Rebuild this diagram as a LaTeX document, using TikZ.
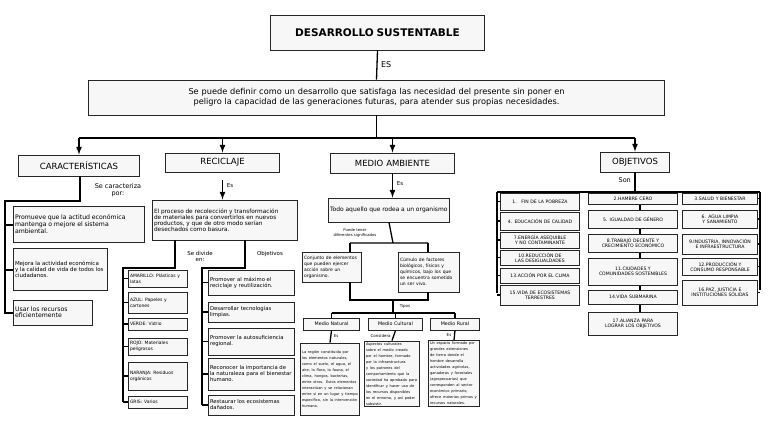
\documentclass[tikz,border=0pt]{standalone}
\usepackage{fontspec}
\setmainfont{DejaVu Sans}
\hyphenpenalty=10000
\exhyphenpenalty=10000
\begin{document}
\begin{tikzpicture}[x=1pt,y=-1pt,
  bx/.style={draw=black!85,line width=0.9pt,fill=black!3,inner sep=1.5pt,align=left,font=\fontsize{5.2}{6}\selectfont},
  hd/.style={bx,align=center,font=\fontsize{8.5}{10}\selectfont},
  ob/.style={bx,align=center,font=\fontsize{4.6}{5.2}\selectfont},
  ln/.style={line width=1.3pt},
  ar/.style={line width=1.6pt,-latex},
  lab/.style={font=\fontsize{5.5}{6}\selectfont,align=center,inner sep=0.5pt}]
\useasboundingbox (0,0) rectangle (768,431);
\newcommand\bx[7][bx]{\pgfmathsetmacro\tw{#5-#3-4}\pgfmathsetmacro\mh{#6-#4}%
  \node[#1,text width=\tw pt,minimum height=\mh pt] (#2) at ({(#3+#5)/2},{(#4+#6)/2}) {\hyphenpenalty=10000\relax #7};}
% title
\bx[hd]{t}{270}{15}{485}{50}{\fontsize{10.5}{12}\selectfont\bfseries DESARROLLO SUSTENTABLE}
\bx[hd]{d}{88}{80}{665}{115}{\fontsize{8.2}{11}\selectfont Se puede definir como un desarrollo que satisfaga las necesidad del presente sin poner en peligro la capacidad de las generaciones futuras, para atender sus propias necesidades.}
\draw[ln] (t.south) -- (d.north) node[lab,pos=0.5,right=3pt,font=\fontsize{8}{9}\selectfont]{ES};
\bx[hd]{c}{18}{155}{140}{176}{CARACTERÍSTICAS}
\bx[hd]{r}{165}{153}{280}{172}{RECICLAJE}
\bx[hd]{m}{330}{153}{455}{173}{MEDIO AMBIENTE}
\bx[hd]{o}{600}{152}{670}{172}{OBJETIVOS}
\coordinate (h) at (d.south|-0,138);
\draw[ln] (d.south) -- (h);
\draw[ln] (c.north|-h) -- (o.north|-h);
\foreach \n in {c,r,m,o} \draw[ar] (\n.north|-h) -- (\n.north);
% caracteristicas
\bx{c1}{13}{206}{145}{242}{\fontsize{6.2}{7.5}\selectfont Promueve que la actitud económica mantenga o mejore el sistema ambiental.}
\bx{c2}{13}{248}{108}{290}{\fontsize{5.5}{6.6}\selectfont Mejora la actividad económica y la calidad de vida de todos los ciudadanos.}
\bx{c3}{13}{300}{93}{325}{\fontsize{6.2}{7.5}\selectfont Usar los recursos eficientemente}
\coordinate (cj) at (80,201);
\draw[ln] (c.south-|cj) -- (cj) -- (5,201) -- (5,313) -- (c3.west|-0,313);
\draw[ln] (5,225) -- (c1.west|-0,225);
\draw[ln] (5,270) -- (c2.west|-0,270);
\node[lab,font=\fontsize{6.5}{7}\selectfont] at (118,190) {Se caracteriza\\por:};
% reciclaje
\bx{rd}{152}{200}{298}{240}{\fontsize{5.8}{6.7}\selectfont El proceso de recolección y transformación de materiales para convertirlos en nuevos productos, y que de otro modo serían desechados como basura.}
\draw[ar] (r.south|-0,180) -- (r.south|-rd.north) node[lab,pos=0.3,right=3pt]{Es};
\foreach \i/\a/\b/\t in {1/270/287/{AMARILLO: Plásticos y latas},2/292/313/{AZUL: Papeles y cartones},3/318/330/{VERDE: Vidrio},4/338/355/{ROJO: Materiales peligrosos},5/362/390/{NARANJA: Residuos orgánicos},6/396/408/{GRIS: Varios}}
  {\bx{k\i}{128}{\a}{188}{\b}{\fontsize{4.5}{5.5}\selectfont\t}\draw[ln] (123,{(\a+\b)/2}) -- (k\i.west|-0,{(\a+\b)/2});}
\foreach \i/\a/\b/\t in {1/270/295/{Promover al máximo el reciclaje y reutilización.},2/302/322/{Desarrollar tecnologías limpias.},3/328/355/{Promover la autosuficiencia regional.},4/358/390/{Reconocer la importancia de la naturaleza para el bienestar humano.},5/395/415/{Restaurar los ecosistemas dañados.}}
  {\bx{g\i}{208}{\a}{295}{\b}{\fontsize{5.3}{6.3}\selectfont\t}\draw[ln] (202,{(\a+\b)/2}) -- (g\i.west|-0,{(\a+\b)/2});}
\draw[ln] (rd.south-|175,0) -- (175,268) -- (123,268) -- (123,402);
\draw[ln] (rd.south-|245,0) -- (245,268) -- (202,268) -- (202,405);
\node[lab] at (200,256) {Se divide\\en:};
\node[lab] at (270,254) {Objetivos};
% medio ambiente
\bx{md}{328}{198}{450}{222}{\fontsize{6}{7}\selectfont Todo aquello que rodea a un organismo}
\draw[ar] (m.south) -- (m.south|-md.north) node[lab,pos=0.4,right=3pt]{Es};
\bx{m1}{302}{252}{362}{282}{\fontsize{4.5}{5.4}\selectfont Conjunto de elementos que pueden ejercer acción sobre un organismo.}
\bx{m2}{398}{252}{460}{292}{\fontsize{4.5}{5.4}\selectfont Cúmulo de factores biológicos, físicos y químicos, bajo los que se encuentra sometido un ser vivo.}
\draw[ln] (md.south) -- (393,243) (350,243) -- (428,243);
\draw[ln] (350,243) -- (350,252) (428,243) -- (428,252);
\draw[ln] (350,282) -- (350,300) -- (428,300) -- (428,292);
\draw[ln] (393,300) -- (393,313);
\node[lab,font=\fontsize{3.8}{4.3}\selectfont] at (355,233) {Puede tener\\diferentes significados};
\node[lab,font=\fontsize{4}{5}\selectfont] at (405,306) {Tipos};
\bx[ob]{n1}{303}{318}{360}{330}{\fontsize{4.8}{5.5}\selectfont Medio Natural}
\bx[ob]{n2}{368}{318}{423}{330}{\fontsize{4.8}{5.5}\selectfont Medio Cultural}
\bx[ob]{n3}{430}{318}{480}{330}{\fontsize{4.8}{5.5}\selectfont Medio Rural}
\draw[ln] (n1.north|-0,313) -- (n3.north|-0,313);
\foreach \n in {n1,n2,n3} \draw[ln] (\n.north|-0,313) -- (\n.north);
\bx[bx]{b1}{300}{343}{360}{415}{\fontsize{3.6}{4.3}\selectfont La región constituida por los elementos naturales, como el suelo, el agua, el aire, la flora, la fauna, el clima, hongos, bacterias, entre otros. Estos elementos interactúan y se relacionan entre sí en un lugar y tiempo específico, sin la intervención humana.}
\bx[bx]{b2}{364}{343}{420}{405}{\fontsize{3.6}{4.3}\selectfont Aspectos culturales sobre el medio creado por el hombre, formado por la infraestructura y los patrones del comportamiento que la sociedad ha aprobado para identificar y hacer uso de los recursos disponibles en el entorno, y así poder subsistir.}
\bx[bx]{b3}{428}{343}{480}{404}{\fontsize{3.6}{4.3}\selectfont Un espacio formado por grandes extensiones de tierra donde el hombre desarrolla actividades agrícolas, ganaderas y forestales (agropecuarias) que corresponden al sector económico primario, ofrece materias primas y recursos naturales.}
\draw[ln] (n1.south) -- (b1.north) node[lab,pos=0.5,right=2pt,font=\fontsize{4}{5}\selectfont]{Es};
\draw[ln] (n2.south) -- (b2.north) node[lab,pos=0.5,left=2pt,font=\fontsize{4}{5}\selectfont]{Considera};
\draw[ln] (n3.south) -- (b3.north) node[lab,pos=0.5,left=2pt,font=\fontsize{4}{5}\selectfont]{Es};
% objetivos
\draw[ln] (o.south) -- (o.south|-0,192) node[lab,pos=0.4,left=3pt,font=\fontsize{6.5}{7}\selectfont]{Son};
\draw[ln] (497,192) -- (760,192);
\draw[ln] (497,192) -- (497,293) (760,192) -- (760,290) (640,192) -- (640,312);
\foreach \i/\a/\b/\t in {1/193/210/{1.\quad FIN DE LA POBREZA},4/212/230/{4. EDUCACIÓN DE CALIDAD},7/232/248/{7.ENERGÍA ASEQUIBLE Y NO CONTAMINANTE},10/250/265/{10.REDUCCIÓN DE LAS DESIGUALDADES},13/268/283/{13.ACCIÓN POR EL CLIMA},15/285/305/{15.VIDA DE ECOSISTEMAS TERRESTRES}}
  {\bx[ob]{s\i}{500}{\a}{580}{\b}{\t}\draw[ln] (497,{(\a+\b)/2}) -- (s\i.west|-0,{(\a+\b)/2});}
\foreach \i/\a/\b/\t in {2/193/204/{2.HAMBRE CERO},5/210/228/{5. IGUALDAD DE GÉNERO},8/234/252/{8.TRABAJO DECENTE Y CRECIMIENTO ECONÓMICO},11/258/285/{11.CIUDADES Y COMUNIDADES SOSTENIBLES},14/290/304/{14.VIDA SUBMARINA},17/312/335/{17.ALIANZA PARA LOGRAR LOS OBJETIVOS}}
  {\bx[ob]{s\i}{588}{\a}{678}{\b}{\t}}
\foreach \i/\a/\b/\t in {3/193/204/{3.SALUD Y BIENESTAR},6/210/228/{6. AGUA LIMPIA Y SANAMIENTO},9/234/254/{9.INDUSTRIA, INNOVACIÓN E INFRAESTRUCTURA},12/258/275/{12.PRODUCCIÓN Y CONSUMO RESPONSABLE},16/280/305/{16.PAZ, JUSTICIA E INSTITUCIONES SÓLIDAS}}
  {\bx[ob]{s\i}{682}{\a}{758}{\b}{\t}\draw[ln] (760,{(\a+\b)/2}) -- (s\i.east|-0,{(\a+\b)/2});}
\end{tikzpicture}
\end{document}
